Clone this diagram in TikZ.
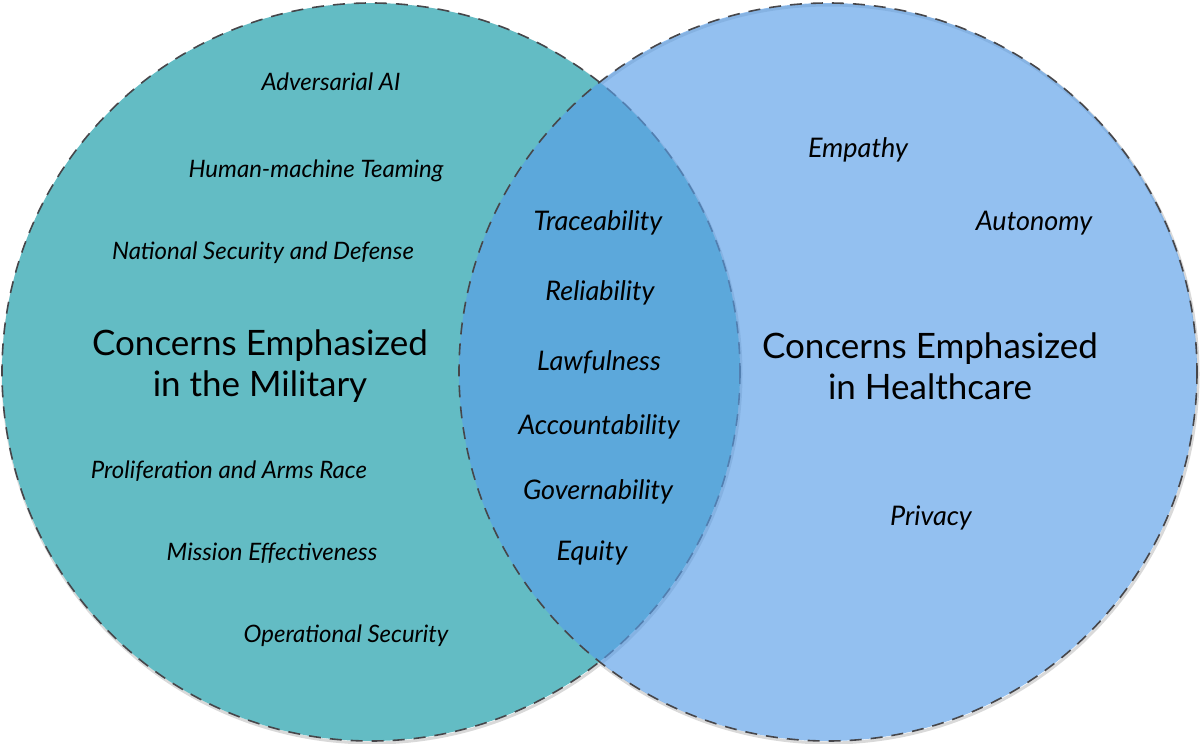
\documentclass[tikz,border=0pt]{standalone}
\usepackage{fontspec}
\setmainfont{Lato}
\usepackage{xcolor}
\definecolor{military}{RGB}{99,188,196}
\definecolor{health}{RGB}{89,158,232}
\definecolor{rim}{RGB}{70,70,74}

\begin{document}
\begin{tikzpicture}[x=1pt, y=-1pt,
	ring/.style={draw=rim, line width=1.6pt, dash pattern=on 12pt off 9pt},
	topic/.style={font=\fontsize{24}{28}\selectfont\itshape},
	core/.style={font=\fontsize{27}{31}\selectfont\itshape},
	title/.style={font=\fontsize{35}{41}\selectfont, align=center}]
	\useasboundingbox (0,0) rectangle (1200,744);

	% shadows
	\draw [black!15, line width=3pt] (372,374) circle (369);
	\draw [black!15, line width=3pt] (829,374) circle (369);

	% the two sets
	\fill [military] (371,372) circle (369);
	\draw [ring] (371,372) circle (369);
	\fill [health, fill opacity=0.65] (828,372) circle (369);
	\draw [ring] (828,372) circle (369);

	% military only
	\node [topic] (adv) at (331,82) {Adversarial AI};
	\node [topic] (hmt) at (316,171) {Human-machine Teaming};
	\node [topic] (nsd) at (263,253) {National Security and Defense};
	\node [title] (mil) at (260,366) {Concerns Emphasized\\in the Military};
	\node [topic] (par) at (229,471) {Proliferation and Arms Race};
	\node [topic] (mef) at (272,553) {Mission Effectiveness};
	\node [topic] (ops) at (346,636) {Operational Security};

	% shared
	\node [core] (tra) at (598,223) {Traceability};
	\node [core] (rel) at (600,293) {Reliability};
	\node [core] (law) at (599,362) {Lawfulness};
	\node [core] (acc) at (599,427) {Accountability};
	\node [core] (gov) at (598,492) {Governability};
	\node [core] (equ) at (592,553) {Equity};

	% healthcare only
	\node [core] (emp) at (858,150) {Empathy};
	\node [core] (aut) at (1034,223) {Autonomy};
	\node [title] (hea) at (930,366) {Concerns Emphasized\\in Healthcare};
	\node [core] (pri) at (931,518) {Privacy};
\end{tikzpicture}
\end{document}
